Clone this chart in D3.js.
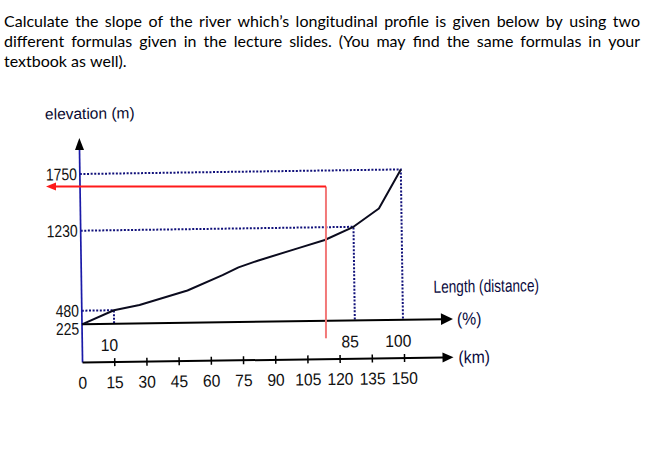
<!DOCTYPE html>
<html>
<head>
<meta charset="utf-8">
<script src="https://cdn.jsdelivr.net/npm/d3@7"></script>
<style>
  html, body { margin: 0; padding: 0; background: #fff; }
  svg { display: block; }
</style>
</head>
<body>
<script>
// ---------------- data ----------------
const introLines = [
  "Calculate the slope of the river which\u2019s longitudinal profile is given below by using two",
  "different formulas given in the lecture slides. (You may find the same formulas in your",
  "textbook as well)."
];
const elevTicks = [225, 480, 1230, 1750];            // elevation (m) tick labels
const pctLabels = [10, 85, 100];                      // length (%) labels
const kmTicks = [0, 15, 30, 45, 60, 75, 90, 105, 120, 135, 150];
const profilePct  = [0, 10, 18, 33, 44, 49, 55, 68, 76, 85, 93, 100];
const profileElev = [225, 480, 525, 655, 795, 865, 925, 1040, 1110, 1230, 1395, 1750];
const guidePct  = [10, 85, 100];                      // dotted reference points
const guideElev = [480, 1230, 1750];
const readingPct = 76, readingElev = 1635;            // red reading lines

// ---------------- setup ----------------
const W = 656, H = 466;
const svg = d3.select("body").append("svg").attr("width", W).attr("height", H);

// intro text, justified word by word
const introFont = "Lato, 'Open Sans', sans-serif";
const introSize = 16;
const introX0 = 4, introX1 = 640;
const introY = [27, 47, 67];
function measure(word) {
  const t = svg.append("text")
    .attr("x", 0).attr("y", -50)
    .attr("font-family", introFont)
    .attr("font-size", introSize)
    .text(word);
  const w = t.node().getComputedTextLength();
  t.remove();
  return w;
}
introLines.forEach((line, i) => {
  const words = line.split(" ");
  const widths = words.map(measure);
  const justify = i < introLines.length - 1;
  const total = d3.sum(widths);
  const spaceW = measure("a b") - measure("ab");
  const gap = justify ? (introX1 - introX0 - total) / (words.length - 1) : spaceW;
  let x = introX0;
  words.forEach((w, k) => {
    svg.append("text")
      .attr("x", x).attr("y", introY[i])
      .attr("font-family", introFont)
      .attr("font-size", introSize)
      .attr("fill", "#000")
      .text(w);
    x += widths[k] + gap;
  });
});

// ---------------- chart (scanned figure, slightly rotated) ----------------
const x0 = 82, y0 = 324.3;
const xPct = d3.scaleLinear().domain([0, 100]).range([x0, 403]);
const xKm  = d3.scaleLinear().domain([0, 150]).range([x0, 404]);
const yElev = d3.scaleLinear().domain([225, 480, 1230, 1750]).range([y0, 310.7, 230.7, 174]);
const kmY = y0 + 38.3;
const axisTop = 138;
const axisRight = 453;

const g = svg.append("g").attr("transform", `rotate(-0.82, ${x0}, ${y0})`);

const navy = "#10107a";
const textFont = "'Liberation Sans', Arial, sans-serif";

// dotted guides
guidePct.forEach((p, i) => {
  const px = xPct(p), py = yElev(guideElev[i]);
  g.append("path")
    .attr("d", `M${x0},${py}H${px}V${y0}`)
    .attr("fill", "none")
    .attr("stroke", navy)
    .attr("stroke-width", 2)
    .attr("stroke-dasharray", "2,1.6");
});

// vertical axis
g.append("line")
  .attr("x1", x0).attr("x2", x0)
  .attr("y1", kmY).attr("y2", axisTop + 10)
  .attr("stroke", "#1a1aa8").attr("stroke-width", 1.7);
g.append("path")
  .attr("d", `M${x0},${axisTop}L${x0 - 4.5},${axisTop + 12}L${x0 + 4.5},${axisTop + 12}Z`)
  .attr("fill", "#000");

// length (%) axis
g.append("line")
  .attr("x1", x0).attr("x2", axisRight - 10)
  .attr("y1", y0).attr("y2", y0)
  .attr("stroke", "#000").attr("stroke-width", 2);
g.append("path")
  .attr("d", `M${axisRight},${y0}L${axisRight - 12},${y0 - 5.8}L${axisRight - 12},${y0 + 5.8}Z`)
  .attr("fill", "#000");

// km axis
g.append("line")
  .attr("x1", x0).attr("x2", axisRight - 10)
  .attr("y1", kmY).attr("y2", kmY)
  .attr("stroke", "#000").attr("stroke-width", 2);
g.append("path")
  .attr("d", `M${axisRight},${kmY}L${axisRight - 11},${kmY - 5}L${axisRight - 11},${kmY + 5}Z`)
  .attr("fill", "#000");
g.selectAll(".kmtick").data(kmTicks.filter(d => d > 0)).enter().append("line")
  .attr("x1", d => xKm(d)).attr("x2", d => xKm(d))
  .attr("y1", kmY - 4).attr("y2", kmY + 4)
  .attr("stroke", "#000").attr("stroke-width", 1.5);
g.selectAll(".kmlabel").data(kmTicks).enter().append("text")
  .attr("transform", d => `translate(${xKm(d)},${kmY + 26}) scale(0.92,1)`)
  .attr("text-anchor", "middle")
  .attr("font-family", textFont)
  .attr("font-size", 17)
  .attr("fill", "#111")
  .text(d => d);

// percent labels
g.selectAll(".pctlabel").data(pctLabels).enter().append("text")
  .attr("transform", d => `translate(${xPct(d) - 5},${y0 + 27}) scale(0.92,1)`)
  .attr("text-anchor", "middle")
  .attr("font-family", textFont)
  .attr("font-size", 17)
  .attr("fill", "#111")
  .text(d => d);

// elevation tick labels (push apart when crowded)
let prevBase = -Infinity;
elevTicks.slice().sort((a, b) => b - a).forEach(v => {
  let base = yElev(v) + 6;
  if (base - prevBase < 17) base = prevBase + 18;
  prevBase = base;
  g.append("text")
    .attr("transform", `translate(${x0 - 3},${base}) scale(0.82,1)`)
    .attr("text-anchor", "end")
    .attr("font-family", textFont)
    .attr("font-size", 17)
    .attr("fill", "#111")
    .text(v);
});

// profile line
const line = d3.line().x(d => xPct(d[0])).y(d => yElev(d[1]));
g.append("path")
  .datum(profilePct.map((p, i) => [p, profileElev[i]]))
  .attr("d", line)
  .attr("fill", "none")
  .attr("stroke", "#0b0b1e")
  .attr("stroke-width", 2)
  .attr("stroke-linejoin", "round");

// titles
g.append("text")
  .attr("x", x0 - 34).attr("y", 119)
  .attr("font-family", textFont).attr("font-size", 15.5)
  .attr("fill", "#0a0a30")
  .text("elevation (m)");
g.append("text")
  .attr("transform", `translate(434,${y0 - 26.5}) scale(0.78,1)`)
  .attr("font-family", textFont).attr("font-size", 17.5)
  .attr("fill", "#0a0a40")
  .text("Length (distance)");
g.append("text")
  .attr("transform", `translate(${axisRight + 4},${y0 + 6}) scale(0.9,1)`)
  .attr("font-family", textFont).attr("font-size", 17.5)
  .attr("fill", "#0a0a40")
  .text("(%)");
g.append("text")
  .attr("transform", `translate(${axisRight + 5},${kmY + 6}) scale(0.9,1)`)
  .attr("font-family", textFont).attr("font-size", 17.5)
  .attr("fill", "#0a0a40")
  .text("(km)");

// ---------------- red reading lines (overlaid, not rotated) ----------------
const rx = xPct(readingPct), ry = yElev(readingElev);
svg.append("line")
  .attr("x1", rx).attr("x2", rx)
  .attr("y1", ry).attr("y2", y0 + 14)
  .attr("stroke", "#f27878").attr("stroke-width", 2);
const arrowTip = x0 - 36;
svg.append("line")
  .attr("x1", rx).attr("x2", arrowTip + 8)
  .attr("y1", ry).attr("y2", ry)
  .attr("stroke", "#ff1a1a").attr("stroke-width", 2);
svg.append("path")
  .attr("d", `M${arrowTip},${ry}L${arrowTip + 10},${ry - 4}L${arrowTip + 10},${ry + 4}Z`)
  .attr("fill", "#ff1a1a");
</script>
</body>
</html>
